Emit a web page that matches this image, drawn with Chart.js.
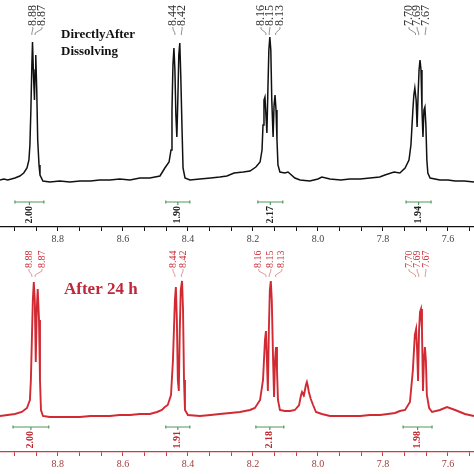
<!DOCTYPE html>
<html>
<head>
<meta charset="utf-8">
<script src="https://cdn.jsdelivr.net/npm/chart.js@4.4.0/dist/chart.umd.min.js"></script>
<style>
html, body { margin: 0; padding: 0; background: #fff; }
#quadro { position: relative; width: 474px; height: 474px; overflow: hidden; }
.painel { position: absolute; left: 0; width: 474px; }
</style>
</head>
<body>
<div id="quadro">
    <div class="painel" style="top:0;height:248px"><canvas id="espectroInicial"></canvas></div>
    <div class="painel" style="top:248px;height:226px"><canvas id="espectro24h"></canvas></div>
</div>
<script>
// eixo (ppm)
let ticksPpm = [8.8, 8.6, 8.4, 8.2, 8.0, 7.8, 7.6];

// espectro logo apos dissolver
let ppmInicial = [
    8.978, 8.966, 8.954, 8.932, 8.917, 8.905, 8.895, 8.889, 8.886, 8.883,
    8.880, 8.878, 8.875, 8.872, 8.870, 8.868, 8.865, 8.862, 8.858, 8.855,
    8.846, 8.825, 8.794, 8.763, 8.732, 8.700, 8.671, 8.640, 8.610, 8.578,
    8.548, 8.517, 8.486, 8.471, 8.458, 8.452, 8.449, 8.446, 8.443, 8.440,
    8.437, 8.434, 8.431, 8.428, 8.425, 8.422, 8.418, 8.415, 8.409, 8.394,
    8.363, 8.330, 8.302, 8.280, 8.258, 8.230, 8.209, 8.191, 8.178, 8.172,
    8.169, 8.166, 8.163, 8.160, 8.157, 8.154, 8.151, 8.148, 8.145, 8.142,
    8.138, 8.135, 8.132, 8.129, 8.126, 8.123, 8.117, 8.102, 8.092, 8.071,
    8.055, 8.025, 8.000, 7.988, 7.963, 7.930, 7.902, 7.870, 7.840, 7.810,
    7.794, 7.766, 7.748, 7.732, 7.720, 7.714, 7.708, 7.705, 7.702, 7.698,
    7.695, 7.692, 7.689, 7.686, 7.683, 7.680, 7.677, 7.674, 7.671, 7.668,
    7.665, 7.662, 7.655, 7.625, 7.600, 7.578, 7.550, 7.520
];
let intInicial = [
    0, 1, 0, 2, 4, 7, 12, 20, 35, 70,
    115, 138, 105, 80, 110, 125, 90, 40, 15, 5,
    -1, -2, -1, -2, -1, -1, 0, 0, 1, 0,
    2, 2, 4, 12, 18, 30, 70, 115, 132, 110,
    65, 43, 80, 125, 137, 105, 50, 12, 2, 0,
    1, 2, 3, 4, 7, 8, 9, 13, 18, 30,
    55, 80, 83, 65, 47, 90, 130, 143, 130, 80,
    43, 75, 85, 70, 40, 15, 8, 7, 8, 2,
    0, -1, 1, 3, 1, 0, 1, 1, 2, 3,
    5, 8, 7, 12, 20, 35, 70, 85, 92, 80,
    53, 85, 110, 120, 110, 70, 43, 70, 73, 55,
    20, 7, 2, 0, 0, -1, -1, -2
];

// espectro depois de 24 h
let ppm24h = [
    8.978, 8.955, 8.932, 8.911, 8.895, 8.886, 8.883, 8.880, 8.877, 8.874,
    8.871, 8.868, 8.865, 8.862, 8.858, 8.855, 8.852, 8.846, 8.825, 8.794,
    8.763, 8.732, 8.700, 8.671, 8.640, 8.610, 8.578, 8.548, 8.517, 8.495,
    8.480, 8.471, 8.462, 8.452, 8.446, 8.440, 8.437, 8.434, 8.431, 8.428,
    8.425, 8.422, 8.418, 8.415, 8.412, 8.409, 8.400, 8.363, 8.330, 8.302,
    8.270, 8.240, 8.209, 8.194, 8.178, 8.169, 8.163, 8.160, 8.157, 8.154,
    8.151, 8.148, 8.145, 8.142, 8.138, 8.135, 8.132, 8.129, 8.126, 8.123,
    8.117, 8.102, 8.086, 8.071, 8.058, 8.052, 8.049, 8.046, 8.043, 8.037,
    8.034, 8.031, 8.028, 8.022, 8.015, 8.006, 7.988, 7.963, 7.930, 7.902,
    7.870, 7.840, 7.809, 7.785, 7.763, 7.748, 7.732, 7.717, 7.708, 7.702,
    7.698, 7.695, 7.692, 7.689, 7.686, 7.683, 7.680, 7.677, 7.674, 7.671,
    7.668, 7.665, 7.658, 7.649, 7.625, 7.603, 7.578, 7.548, 7.520
];
let int24h = [
    0, 1, 2, 4, 8, 16, 36, 76, 116, 134,
    116, 54, 106, 127, 96, 36, 6, 0, -1, -1,
    -1, -1, 0, 0, 0, 1, 1, 2, 2, 4,
    6, 9, 11, 21, 56, 116, 129, 96, 36, 25,
    86, 126, 135, 106, 36, 6, 1, 0, 1, 2,
    3, 4, 6, 8, 16, 36, 76, 85, 56, 25,
    86, 126, 135, 116, 56, 19, 56, 69, 46, 16,
    6, 5, 5, 6, 11, 21, 24, 22, 21, 31,
    34, 30, 24, 17, 11, 4, 2, 0, 0, 0,
    0, 1, 1, 2, 3, 5, 6, 14, 46, 81,
    87, 66, 35, 86, 104, 107, 86, 25, 56, 69,
    56, 21, 8, 4, 6, 9, 6, 2, 0
];

// picos marcados
let picosInicial = [8.88, 8.87, 8.44, 8.42, 8.16, 8.15, 8.13, 7.70, 7.69, 7.67];
let rotuloInicial = [8.877, 8.849, 8.446, 8.418, 8.175, 8.148, 8.117, 7.720, 7.695, 7.668];
let picos24h = [8.88, 8.87, 8.44, 8.42, 8.16, 8.15, 8.13, 7.70, 7.69, 7.67];
let rotulo24h = [8.889, 8.849, 8.446, 8.415, 8.182, 8.145, 8.111, 7.720, 7.695, 7.668];

// integrais
let integralDeInicial = [8.932, 8.468, 8.185, 7.729];
let integralAteInicial = [8.843, 8.394, 8.108, 7.652];
let integralInicial = ['2.00', '1.90', '2.17', '1.94'];
let integralDe24h = [8.938, 8.468, 8.191, 7.738];
let integralAte24h = [8.828, 8.394, 8.105, 7.649];
let integral24h = ['2.00', '1.91', '2.18', '1.98'];

function montarPontos(ppm, valores) {
    return ppm.map(function (p, i) { return { x: p, y: valores[i] }; });
}

function criarNotas(cfg) {
    return {
        id: 'notas',
        afterDatasetsDraw: function (chart) {
            let ctx = chart.ctx;
            let eixo = chart.scales.x;
            ctx.save();

            // rotulos dos picos
            ctx.font = cfg.fontePico;
            ctx.fillStyle = cfg.corPico;
            ctx.strokeStyle = cfg.corLigacao;
            ctx.lineWidth = 0.8;
            cfg.picos.forEach(function (valor, i) {
                let lx = eixo.getPixelForValue(cfg.rotulos[i]);
                let px = eixo.getPixelForValue(valor);
                let yb = cfg.yRotulo;
                ctx.save();
                ctx.translate(lx, yb);
                ctx.rotate(-Math.PI / 2);
                ctx.textAlign = 'left';
                ctx.textBaseline = 'middle';
                ctx.fillText(valor.toFixed(2), 0, 0);
                ctx.restore();
                ctx.beginPath();
                ctx.moveTo(lx, yb + 1);
                ctx.lineTo(lx, yb + 3);
                ctx.lineTo(px, yb + 7);
                ctx.lineTo(px, yb + 9);
                ctx.stroke();
            });

            // integrais
            ctx.strokeStyle = '#4f9a5c';
            ctx.lineWidth = 1.2;
            ctx.font = cfg.fonteIntegral;
            ctx.fillStyle = cfg.corIntegral;
            cfg.integralValor.forEach(function (txt, i) {
                let x1 = eixo.getPixelForValue(cfg.integralDe[i]);
                let x2 = eixo.getPixelForValue(cfg.integralAte[i]);
                let cx = (x1 + x2) / 2;
                let yi = cfg.yIntegral;
                ctx.beginPath();
                ctx.moveTo(x1, yi); ctx.lineTo(x2, yi);
                ctx.moveTo(x1, yi - 1.5); ctx.lineTo(x1, yi + 1.5);
                ctx.moveTo(x2, yi - 1.5); ctx.lineTo(x2, yi + 1.5);
                ctx.moveTo(cx, yi); ctx.lineTo(cx, yi + 3);
                ctx.stroke();
                ctx.save();
                ctx.translate(cx, yi + 4);
                ctx.rotate(-Math.PI / 2);
                ctx.textAlign = 'right';
                ctx.textBaseline = 'middle';
                ctx.fillText(txt, 0, 0);
                ctx.restore();
            });

            // titulo
            ctx.font = cfg.fonteTitulo;
            ctx.fillStyle = cfg.corTitulo;
            ctx.textAlign = 'left';
            ctx.textBaseline = 'alphabetic';
            cfg.titulo.forEach(function (linha, i) {
                ctx.fillText(linha, cfg.xTitulo, cfg.yTitulo + i * cfg.passoTitulo);
            });
            ctx.restore();
        }
    };
}

function gerarEspectro(idCanvas, ppm, valores, cfg) {
    let ctx = document.getElementById(idCanvas).getContext('2d');
    return new Chart(ctx, {
        type: 'line',
        data: {
            datasets: [{
                data: montarPontos(ppm, valores),
                borderColor: cfg.corLinha,
                borderWidth: cfg.espessura,
                pointRadius: 0,
                tension: 0,
                fill: false
            }]
        },
        options: {
            responsive: true,
            maintainAspectRatio: false,
            animation: false,
            layout: { padding: 0 },
            plugins: {
                legend: { display: false },
                tooltip: { enabled: false }
            },
            scales: {
                x: {
                    type: 'linear',
                    reverse: true,
                    min: 7.52,
                    max: 8.978,
                    afterBuildTicks: function (scale) {
                        let lista = [];
                        for (let k = -2; k <= 19; k++) {
                            lista.push({ value: 8.8 - k * 0.2 / 3 });
                        }
                        scale.ticks = lista;
                    },
                    afterFit: function (scale) {
                        scale.height = cfg.alturaEixo;
                    },
                    grid: {
                        drawOnChartArea: false,
                        drawTicks: true,
                        tickLength: 4,
                        color: cfg.corEixo,
                        lineWidth: 1
                    },
                    border: { display: true, color: cfg.corEixo, width: 1.3 },
                    ticks: {
                        autoSkip: false,
                        maxRotation: 0,
                        padding: 2,
                        color: cfg.corTicks,
                        font: { family: 'Liberation Serif', size: 10 },
                        callback: function (v) {
                            let achou = ticksPpm.find(function (t) { return Math.abs(t - v) < 1e-6; });
                            return achou !== undefined ? achou.toFixed(1) : '';
                        }
                    }
                },
                y: {
                    display: false,
                    min: cfg.yMin,
                    max: cfg.yMax
                }
            }
        },
        plugins: [criarNotas(cfg)]
    });
}

gerarEspectro('espectroInicial', ppmInicial, intInicial, {
    corLinha: '#111111',
    espessura: 1.5,
    corEixo: '#111111',
    corTicks: '#444444',
    alturaEixo: 21,
    yMin: -47,
    yMax: 180,
    picos: picosInicial,
    rotulos: rotuloInicial,
    yRotulo: 26,
    fontePico: '12px "Liberation Serif"',
    corPico: '#333333',
    corLigacao: '#777777',
    integralDe: integralDeInicial,
    integralAte: integralAteInicial,
    integralValor: integralInicial,
    yIntegral: 202,
    fonteIntegral: 'bold 10px "Liberation Serif"',
    corIntegral: '#222222',
    titulo: ['DirectlyAfter', 'Dissolving'],
    fonteTitulo: 'bold 13px "Liberation Serif"',
    corTitulo: '#111111',
    xTitulo: 61,
    yTitulo: 38,
    passoTitulo: 17
});

gerarEspectro('espectro24h', ppm24h, int24h, {
    corLinha: '#d22a33',
    espessura: 1.9,
    corEixo: '#d03a3a',
    corTicks: '#9c3b3b',
    alturaEixo: 22,
    yMin: -36,
    yMax: 168,
    picos: picos24h,
    rotulos: rotulo24h,
    yRotulo: 20,
    fontePico: '10px "Liberation Serif"',
    corPico: '#c8323a',
    corLigacao: '#d88080',
    integralDe: integralDe24h,
    integralAte: integralAte24h,
    integralValor: integral24h,
    yIntegral: 179,
    fonteIntegral: 'bold 10px "Liberation Serif"',
    corIntegral: '#c0282f',
    titulo: ['After 24 h'],
    fonteTitulo: 'bold 17px "Liberation Serif"',
    corTitulo: '#c0283a',
    xTitulo: 64,
    yTitulo: 46,
    passoTitulo: 0
});
</script>
</body>
</html>
